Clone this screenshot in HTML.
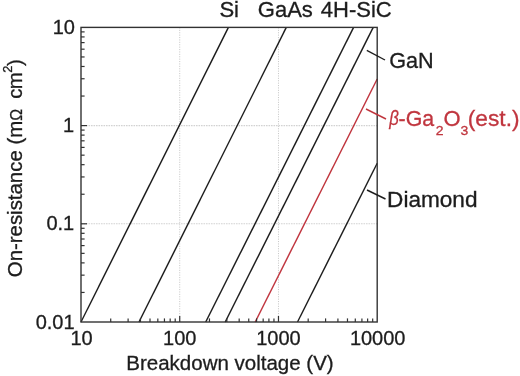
<!DOCTYPE html>
<html><head><meta charset="utf-8"><title>On-resistance vs Breakdown voltage</title>
<style>
html,body{margin:0;padding:0;background:#fff;}
svg{display:block;}
text{font-family:"Liberation Sans",Arial,Helvetica,sans-serif;fill:#1c1c1c;stroke:#1c1c1c;stroke-width:0.3px;}
</style></head><body>
<svg width="520" height="376" viewBox="0 0 520 376">
<defs><filter id="soft" x="0" y="0" width="520" height="376" filterUnits="userSpaceOnUse"><feGaussianBlur stdDeviation="0.45"/></filter></defs>
<rect x="0" y="0" width="520" height="376" fill="#ffffff"/>
<g filter="url(#soft)">

<g stroke="#c9c9c9" stroke-width="1" stroke-dasharray="1.1,1.3" fill="none">
<line x1="179.73" y1="27.4" x2="179.73" y2="322.0"/>
<line x1="278.47" y1="27.4" x2="278.47" y2="322.0"/>
</g>
<g stroke="#d2d2d2" stroke-width="1.1" stroke-dasharray="1.6,0.9" fill="none">
<line x1="81.0" y1="223.80" x2="377.2" y2="223.80"/>
<line x1="81.0" y1="125.60" x2="377.2" y2="125.60"/>
</g>
<g stroke-width="1.45" fill="none" stroke-linecap="butt">
<line x1="81.00" y1="322.0" x2="228.40" y2="27.40" stroke="#1f1f1f"/>
<line x1="139.00" y1="322.0" x2="286.30" y2="27.40" stroke="#1f1f1f"/>
<line x1="205.70" y1="322.0" x2="353.60" y2="27.40" stroke="#1f1f1f"/>
<line x1="225.20" y1="322.0" x2="373.20" y2="27.40" stroke="#1f1f1f"/>
<line x1="255.20" y1="322.0" x2="377.20" y2="78.99" stroke="#c0363f"/>
<line x1="297.50" y1="322.0" x2="377.20" y2="163.25" stroke="#1f1f1f"/>
</g>
<g stroke="#333" stroke-width="1.2" fill="none">
<line x1="110.72" y1="322.0" x2="110.72" y2="318.4"/>
<line x1="81.0" y1="292.44" x2="84.6" y2="292.44"/>
<line x1="128.11" y1="322.0" x2="128.11" y2="318.4"/>
<line x1="81.0" y1="275.15" x2="84.6" y2="275.15"/>
<line x1="140.44" y1="322.0" x2="140.44" y2="318.4"/>
<line x1="81.0" y1="262.88" x2="84.6" y2="262.88"/>
<line x1="150.01" y1="322.0" x2="150.01" y2="318.4"/>
<line x1="81.0" y1="253.36" x2="84.6" y2="253.36"/>
<line x1="157.83" y1="322.0" x2="157.83" y2="318.4"/>
<line x1="81.0" y1="245.59" x2="84.6" y2="245.59"/>
<line x1="164.44" y1="322.0" x2="164.44" y2="318.4"/>
<line x1="81.0" y1="239.01" x2="84.6" y2="239.01"/>
<line x1="170.17" y1="322.0" x2="170.17" y2="318.4"/>
<line x1="81.0" y1="233.32" x2="84.6" y2="233.32"/>
<line x1="175.22" y1="322.0" x2="175.22" y2="318.4"/>
<line x1="81.0" y1="228.29" x2="84.6" y2="228.29"/>
<line x1="179.73" y1="322.0" x2="179.73" y2="316.0"/>
<line x1="81.0" y1="223.80" x2="87.0" y2="223.80"/>
<line x1="209.46" y1="322.0" x2="209.46" y2="318.4"/>
<line x1="81.0" y1="194.24" x2="84.6" y2="194.24"/>
<line x1="226.84" y1="322.0" x2="226.84" y2="318.4"/>
<line x1="81.0" y1="176.95" x2="84.6" y2="176.95"/>
<line x1="239.18" y1="322.0" x2="239.18" y2="318.4"/>
<line x1="81.0" y1="164.68" x2="84.6" y2="164.68"/>
<line x1="248.74" y1="322.0" x2="248.74" y2="318.4"/>
<line x1="81.0" y1="155.16" x2="84.6" y2="155.16"/>
<line x1="256.56" y1="322.0" x2="256.56" y2="318.4"/>
<line x1="81.0" y1="147.39" x2="84.6" y2="147.39"/>
<line x1="263.17" y1="322.0" x2="263.17" y2="318.4"/>
<line x1="81.0" y1="140.81" x2="84.6" y2="140.81"/>
<line x1="268.90" y1="322.0" x2="268.90" y2="318.4"/>
<line x1="81.0" y1="135.12" x2="84.6" y2="135.12"/>
<line x1="273.95" y1="322.0" x2="273.95" y2="318.4"/>
<line x1="81.0" y1="130.09" x2="84.6" y2="130.09"/>
<line x1="278.47" y1="322.0" x2="278.47" y2="316.0"/>
<line x1="81.0" y1="125.60" x2="87.0" y2="125.60"/>
<line x1="308.19" y1="322.0" x2="308.19" y2="318.4"/>
<line x1="81.0" y1="96.04" x2="84.6" y2="96.04"/>
<line x1="325.57" y1="322.0" x2="325.57" y2="318.4"/>
<line x1="81.0" y1="78.75" x2="84.6" y2="78.75"/>
<line x1="337.91" y1="322.0" x2="337.91" y2="318.4"/>
<line x1="81.0" y1="66.48" x2="84.6" y2="66.48"/>
<line x1="347.48" y1="322.0" x2="347.48" y2="318.4"/>
<line x1="81.0" y1="56.96" x2="84.6" y2="56.96"/>
<line x1="355.30" y1="322.0" x2="355.30" y2="318.4"/>
<line x1="81.0" y1="49.19" x2="84.6" y2="49.19"/>
<line x1="361.91" y1="322.0" x2="361.91" y2="318.4"/>
<line x1="81.0" y1="42.61" x2="84.6" y2="42.61"/>
<line x1="367.63" y1="322.0" x2="367.63" y2="318.4"/>
<line x1="81.0" y1="36.92" x2="84.6" y2="36.92"/>
<line x1="372.68" y1="322.0" x2="372.68" y2="318.4"/>
<line x1="81.0" y1="31.89" x2="84.6" y2="31.89"/>
</g>
<rect x="81.0" y="27.4" width="296.20" height="294.60" fill="none" stroke="#333" stroke-width="1.4"/>
<g stroke="#1f1f1f" stroke-width="1.4" fill="none">
<line x1="366.8" y1="50.4" x2="385" y2="60"/>
<line x1="367" y1="190" x2="385.5" y2="199"/>
<line x1="366" y1="109" x2="386" y2="119" stroke="#c0363f"/>
</g>
<text x="219.4" y="17" font-size="21.3" text-anchor="start" textLength="19.6" lengthAdjust="spacingAndGlyphs">Si</text>
<text x="257.8" y="17" font-size="21.3" text-anchor="start" textLength="55.0" lengthAdjust="spacingAndGlyphs">GaAs</text>
<text x="320.8" y="17" font-size="21.3" text-anchor="start" textLength="70.9" lengthAdjust="spacingAndGlyphs">4H-SiC</text>
<text x="389.2" y="68" font-size="21.3" text-anchor="start" textLength="44.5" lengthAdjust="spacingAndGlyphs">GaN</text>
<text x="387.1" y="207" font-size="21.3" text-anchor="start" textLength="90.4" lengthAdjust="spacingAndGlyphs">Diamond</text>
<text x="389.2" y="124.9" font-size="21" style="fill:#c0363f;stroke:#c0363f" font-family="Liberation Serif, serif" font-style="italic" textLength="9.6" lengthAdjust="spacingAndGlyphs">β</text>
<text x="398.6" y="126.3" font-size="21.3" style="fill:#c0363f;stroke:#c0363f" textLength="35.6" lengthAdjust="spacingAndGlyphs">-Ga</text>
<text x="435.8" y="135.4" font-size="12.6" style="fill:#c0363f;stroke:#c0363f" textLength="7.8" lengthAdjust="spacingAndGlyphs">2</text>
<text x="443.6" y="126.3" font-size="21.3" style="fill:#c0363f;stroke:#c0363f" textLength="17.1" lengthAdjust="spacingAndGlyphs">O</text>
<text x="460.4" y="135.4" font-size="12.6" style="fill:#c0363f;stroke:#c0363f" textLength="7.8" lengthAdjust="spacingAndGlyphs">3</text>
<text x="467.8" y="126.3" font-size="21.3" style="fill:#c0363f;stroke:#c0363f" textLength="51.7" lengthAdjust="spacingAndGlyphs">(est.)</text>
<text x="75" y="33.7" font-size="20" text-anchor="end" >10</text>
<text x="74.2" y="131.5" font-size="20" text-anchor="end" >1</text>
<text x="74.2" y="230.3" font-size="20" text-anchor="end" >0.1</text>
<text x="74.6" y="329" font-size="20" text-anchor="end" >0.01</text>
<text x="81.5" y="344.8" font-size="20" text-anchor="middle" >10</text>
<text x="179.73333333333335" y="344.8" font-size="20" text-anchor="middle" >100</text>
<text x="278.4666666666667" y="344.8" font-size="20" text-anchor="middle" >1000</text>
<text x="377.7" y="344.8" font-size="20" text-anchor="middle" >10000</text>
<text x="230" y="369.5" font-size="20.5" text-anchor="middle" >Breakdown voltage (V)</text>
<text transform="translate(21.5,277.2) rotate(-90)" font-size="20.4">On-resistance (m<tspan font-size="15.8">Ω</tspan><tspan dx="4.6"> c</tspan><tspan dx="-0.8">m</tspan><tspan font-size="12.8" dy="-9.8" dx="-0.4">2</tspan><tspan dy="9.8" dx="-0.3">)</tspan></text>
</g>
</svg></body></html>
